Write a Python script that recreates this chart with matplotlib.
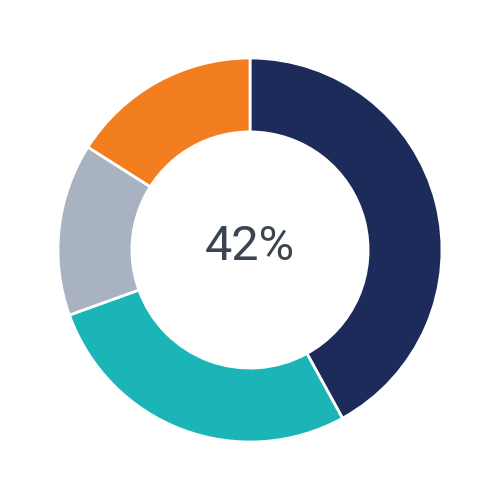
import matplotlib.pyplot as plt

# Slice data, clockwise from 12 o'clock
labels = ['Navy', 'Teal', 'Gray', 'Orange']
values = [42, 27.5, 14.5, 16]
colors = ['#1c2b59', '#1bb5b7', '#a8b2c1', '#f37e20']
center_label = '42%'

fig = plt.figure(figsize=(5, 5), dpi=100)
ax = fig.add_axes([0, 0, 1, 1])

outer_r = 1.0
ring_width = 0.385

ax.pie(values, colors=colors, startangle=90, counterclock=False,
       radius=outer_r,
       wedgeprops=dict(width=ring_width, edgecolor='white', linewidth=2))

ax.text(0, 0.015, center_label, ha='center', va='center', fontsize=35,
        color='#3b4450', family=['Roboto', 'DejaVu Sans'], fontweight='normal')

lim = 250 / 192
ax.set_xlim(-lim, lim)
ax.set_ylim(-lim, lim)
ax.set_aspect('equal')
ax.axis('off')

fig.savefig('out.png', dpi=100, facecolor='white')
